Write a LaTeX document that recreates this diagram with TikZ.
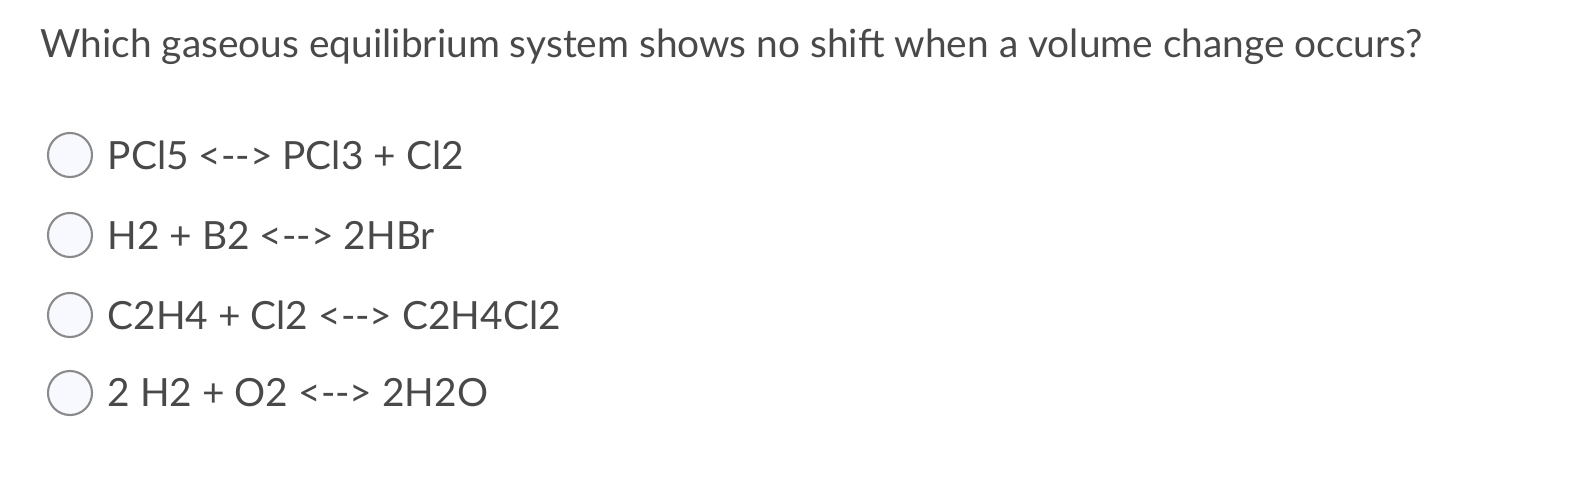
\documentclass[tikz,border=0pt]{standalone}
\usepackage{fontspec}
\setmainfont{Lato}
\definecolor{txt}{HTML}{494949}
\definecolor{ring}{HTML}{8A8A8A}
\definecolor{radfill}{HTML}{F7F9FE}
\begin{document}
\begin{tikzpicture}[x=0.01cm,y=-0.01cm,
  lbl/.style={anchor=west,inner sep=0pt,text=txt,font=\fontsize{11.05pt}{13pt}\selectfont},
  radio/.style={circle,draw=ring,line width=0.6pt,fill=radfill,minimum size=0.44cm,inner sep=0pt}]
\useasboundingbox (0,0) rectangle (1582,478);
\node[lbl] (q) at (40,47) {Which gaseous equilibrium system shows no shift when a volume change occurs?};
\node[radio] (r1) at (70,155) {};
\node[radio] (r2) at (70,235) {};
\node[radio] (r3) at (70,315) {};
\node[radio] (r4) at (70,393) {};
\node[lbl] (a1) at (107,155) {PCl5 <-{}-> PCl3 + Cl2};
\node[lbl] (a2) at (107,235) {H2 + B2 <-{}-> 2HBr};
\node[lbl] (a3) at (107,315) {C2H4 + Cl2 <-{}-> C2H4Cl2};
\node[lbl] (a4) at (107,393) {2 H2 + O2 <-{}-> 2H2O};
\end{tikzpicture}
\end{document}
